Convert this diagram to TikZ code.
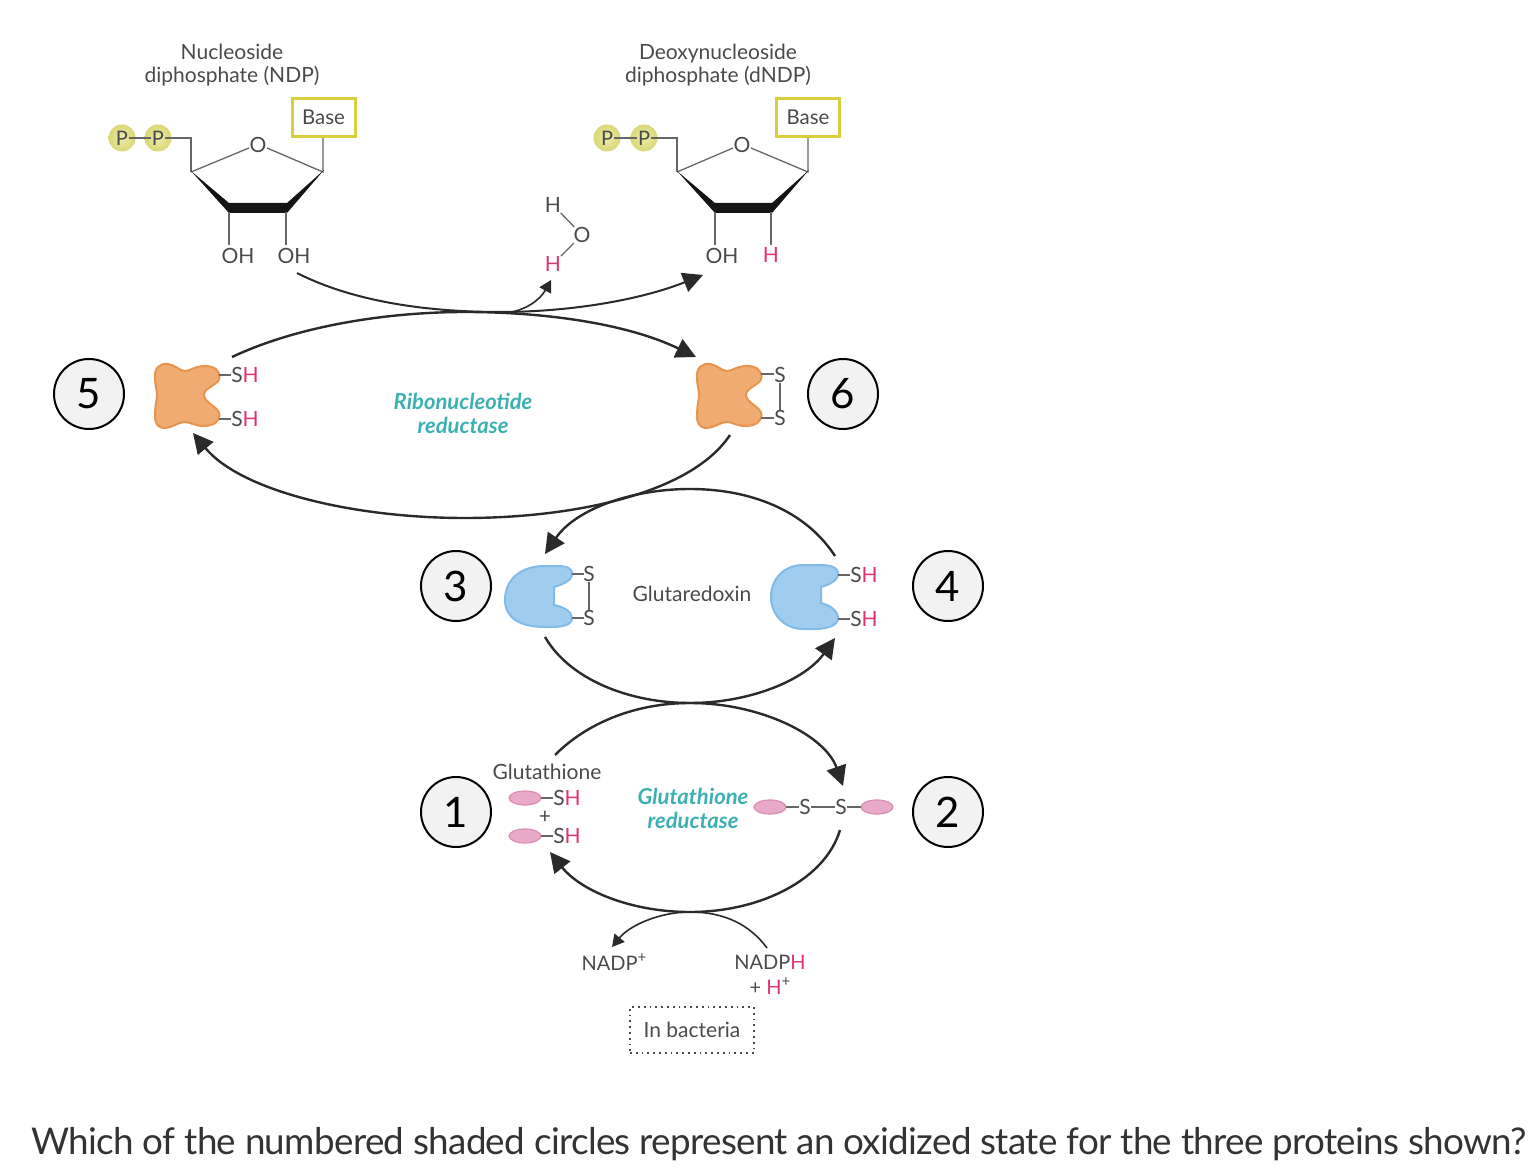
\documentclass[tikz,border=0pt]{standalone}
\usepackage{fontspec}
\setmainfont{Lato}
\usetikzlibrary{arrows.meta}
\definecolor{txt}{HTML}{4A4A4A}
\definecolor{redh}{HTML}{E0356A}
\definecolor{teal2}{HTML}{3DB0B2}
\definecolor{baseY}{HTML}{D8CE3E}
\definecolor{curve}{HTML}{2A2A2A}
\definecolor{bond}{HTML}{666666}
\definecolor{orgfill}{HTML}{EFAB72}
\definecolor{orgline}{HTML}{E8944F}
\definecolor{blufill}{HTML}{A0CDEF}
\definecolor{bluline}{HTML}{82BAE8}
\definecolor{pinkfill}{HTML}{E9A9C8}
\definecolor{pinkline}{HTML}{DB8DB4}
\definecolor{physin}{HTML}{EDEBA8}
\definecolor{physout}{HTML}{DAD877}
\newcommand{\rH}{\textcolor{redh}{H}}
\newcommand{\supplus}{\raisebox{.42em}{\fontsize{7.5}{8}\selectfont +}}
\tikzset{
 x=0.5pt,y=-0.5pt,
 lbl/.style={inner sep=0pt,text=txt,font=\fontsize{10.5}{12}\selectfont},
 smalllbl/.style={inner sep=0pt,text=txt,font=\fontsize{10}{12}\selectfont},
 enz/.style={inner sep=0pt,text=teal2,font=\fontsize{11}{12}\selectfont\bfseries\itshape,align=center},
 num/.style={circle,draw=black,line width=1pt,fill=black!5,minimum size=35pt,inner sep=0pt,text=black,font=\fontsize{21}{24}\selectfont},
 basebox/.style={draw=baseY,line width=1.5pt,fill=white,inner sep=0pt,text=txt,font=\fontsize{10.2}{12}\selectfont,minimum width=31.5pt,minimum height=19pt},
 phos/.style={circle,inner color=physin,outer color=physout,minimum size=13.5pt,inner sep=0pt,text=txt,font=\fontsize{10}{12}\selectfont},
 bondl/.style={draw=bond,line width=.65pt},
 flow/.style={draw=curve,line width=1.2pt,-{Triangle[length=10pt,width=10pt]}},
 thinflow/.style={draw=curve,line width=.8pt,-{Triangle[length=6pt,width=6.5pt]}},
 orangep/.style={draw=orgline,line width=1pt,fill=orgfill},
 bluep/.style={draw=bluline,line width=1pt,fill=blufill},
 pinkp/.style={draw=pinkline,line width=.6pt,fill=pinkfill},
}
\newcommand{\orangeshape}{(155,378) .. controls (154,368) and (160,363) .. (168,364) .. controls (175,365) and (180,371) .. (185,371) .. controls (190,371) and (195,366) .. (205,366) .. controls (215,366) and (219.5,371) .. (219.5,377) .. controls (219.5,385) and (204,387) .. (204,395) .. controls (204,403) and (219.5,407) .. (219.5,415) .. controls (219.5,422) and (213,426) .. (203,426) .. controls (195,426) and (190,422) .. (185,422) .. controls (178,422) and (172,428) .. (165,428) .. controls (158,428) and (155,424) .. (155,416) .. controls (155,405) and (157,400) .. (157,395) .. controls (157,390) and (155,385) .. (155,378) -- cycle}
\begin{document}
\begin{tikzpicture}
\useasboundingbox (0,0) rectangle (1540,1170);
% titles
\node[lbl] (ndpt1) at (232,52) {Nucleoside};
\node[lbl] (ndpt2) at (232,76) {diphosphate (NDP)};
\node[lbl] (dndpt1) at (718,53.5) {Deoxynucleoside};
\node[lbl] (dndpt2) at (718,76) {diphosphate (dNDP)};
% NDP
\node[phos] (p1) at (122,138) {P};
\node[phos] (p2) at (158,138) {P};
\draw[bondl] (129,138) -- (151,138);
\draw[bondl] (165,138) -- (191,138) -- (191,172);
\draw[bondl] (191,172) -- (249,148);
\draw[bondl] (267,148) -- (323,172) -- (323,137);
\fill[black!92] (191,171) -- (229,203) -- (287,203) -- (324,170) -- (287,213) -- (229,213) -- cycle;
\draw[bondl] (229,212) -- (229,245);
\draw[bondl] (286,212) -- (286,245);
\node[lbl] (o1) at (258,145) {O};
\node[basebox] (b1) at (323.5,117.5) {Base};
\node[lbl] (oh1) at (238,256) {OH};
\node[lbl] (oh2) at (294,256) {OH};
% dNDP
\node[phos] (p3) at (607,138) {P};
\node[phos] (p4) at (644,138) {P};
\draw[bondl] (614,138) -- (637,138);
\draw[bondl] (651,138) -- (677,138) -- (677,172);
\draw[bondl] (677,172) -- (733,148);
\draw[bondl] (751,148) -- (808,172) -- (808,137);
\fill[black!92] (677,171) -- (715,203) -- (772,203) -- (809,170) -- (772,213) -- (715,213) -- cycle;
\draw[bondl] (715,212) -- (715,245);
\draw[bondl] (771,212) -- (771,245);
\node[lbl] (o2) at (742,145) {O};
\node[basebox] (b2) at (808,117.5) {Base};
\node[lbl] (oh3) at (722,256) {OH};
\node[lbl,text=redh] (h3) at (771,255) {H};
% water
\node[lbl] (wh1) at (553,205) {H};
\node[lbl] (wo) at (582,235) {O};
\node[lbl,text=redh] (wh2) at (553,264) {H};
\draw[bondl] (wh1) -- (wo);
\draw[bondl] (wh2) -- (wo);
% proteins
\draw[orangep] \orangeshape;
\begin{scope}[xshift=271pt]
\draw[orangep] \orangeshape;
\end{scope}
\draw[bluep] (572,574) .. controls (572,581) and (561,585) .. (554,587) -- (554,605) .. controls (563,607) and (572,611) .. (572,618) .. controls (572,625) and (562,627) .. (552,627) -- (545,627) .. controls (520,627) and (505,618) .. (505,600) .. controls (505,580) and (520,566) .. (545,566) -- (556,566) .. controls (565,566) and (572,567) .. (572,574) -- cycle;
\draw[bluep] (838,574) .. controls (838,581) and (828,585) .. (821,587) -- (821,603) .. controls (830,605) and (838,611) .. (838,618) .. controls (838,626) and (826,629) .. (815,629) -- (803,629) .. controls (785,629) and (771,615) .. (771,597) .. controls (771,578) and (785,565) .. (803,565) -- (820,565) .. controls (830,565) and (838,567) .. (838,574) -- cycle;
% SH / S labels
\node[lbl] (sh1) at (245,375) {S\rH};
\node[lbl] (sh2) at (245,419) {S\rH};
\draw[bondl] (219,375) -- (231,375);
\draw[bondl] (219,419) -- (231,419);
\node[lbl] (s1) at (780,375) {S};
\node[lbl] (s2) at (780,418) {S};
\draw[bondl] (761,374) -- (774,374);
\draw[bondl] (761,418) -- (774,418);
\draw[bondl] (s1) -- (s2);
\node[lbl] (s3) at (589,574) {S};
\node[lbl] (s4) at (589,618) {S};
\draw[bondl] (572,574) -- (584,574);
\draw[bondl] (572,618) -- (584,618);
\draw[bondl] (s3) -- (s4);
\node[lbl] (sh3) at (864,575) {S\rH};
\node[lbl] (sh4) at (864,619) {S\rH};
\draw[bondl] (838,575) -- (850,575);
\draw[bondl] (838,619) -- (850,619);
% circles
\node[num] (n5) at (89,394) {5};
\node[num] (n6) at (843,394) {6};
\node[num] (n3) at (456,586) {3};
\node[num] (n4) at (948,586) {4};
\node[num] (n1) at (456,812) {1};
\node[num] (n2) at (948,812) {2};
% enzyme labels
\node[enz] (rnr1) at (463,401) {Ribonucleotide};
\node[enz] (rnr2) at (463,425) {reductase};
\node[lbl] (grx) at (692,594) {Glutaredoxin};
\node[enz] (gr1) at (693,796) {Glutathione};
\node[enz] (gr2) at (693,820) {reductase};
% glutathione
\node[lbl] (gsh) at (547,772) {Glutathione};
\draw[pinkp] (525,798) ellipse (16 and 7);
\draw[pinkp] (525,836) ellipse (16 and 7);
\draw[bondl] (541,798) -- (553,798);
\draw[bondl] (541,836) -- (553,836);
\node[lbl] (sh5) at (567,798) {S\rH};
\node[lbl] (plus) at (545,817) {+};
\node[lbl] (sh6) at (567,836) {S\rH};
\draw[pinkp] (770,807) ellipse (16 and 7);
\draw[pinkp] (877,807) ellipse (16 and 7);
\node[lbl] (s5) at (805,807) {S};
\node[lbl] (s6) at (841,807) {S};
\draw[bondl] (786,807) -- (s5);
\draw[bondl] (s5) -- (s6);
\draw[bondl] (s6) -- (861,807);
% NADP
\node[smalllbl] (nadp) at (614,962) {NADP\supplus};
\node[smalllbl] (nadph) at (770,962) {NADP\rH};
\node[smalllbl] (hp) at (770,986) {+ \rH\supplus};
\node[lbl,draw=txt,dotted,line width=.9pt,minimum width=62pt,minimum height=23pt] (bac) at (692,1030) {In bacteria};
% connector ends
\coordinate (a1) at (297,273); \coordinate (am) at (500,312); \coordinate (a2) at (703,275);
\coordinate (w1) at (505,313); \coordinate (w2) at (551,280);
\coordinate (c1) at (232,357); \coordinate (cm) at (465,312); \coordinate (c2) at (696,357);
\coordinate (d1) at (730,435); \coordinate (dm) at (465,518); \coordinate (d2) at (193,433);
\coordinate (e1) at (835,556); \coordinate (em) at (690,489); \coordinate (e2) at (545,554);
\coordinate (f1) at (545,637); \coordinate (fm) at (690,703); \coordinate (f2) at (835,638);
\coordinate (g1) at (555,755); \coordinate (g2) at (843,786);
\coordinate (k1) at (840,830); \coordinate (km) at (690,912); \coordinate (k2) at (550,852);
\coordinate (m1) at (767,948); \coordinate (m2) at (612,947);
\draw[flow,line width=1pt] (a1) .. controls (360,305) and (440,312) .. (am) .. controls (570,312) and (640,300) .. (a2);
\draw[thinflow] (w1) .. controls (525,311) and (540,300) .. (w2);
\draw[flow] (c1) .. controls (300,325) and (390,312) .. (cm) .. controls (550,312) and (630,325) .. (c2);
\draw[flow] (d1) .. controls (690,495) and (570,518) .. (dm) .. controls (350,518) and (240,490) .. (d2);
\draw[flow] (e1) .. controls (805,510) and (750,489) .. (em) .. controls (630,489) and (575,510) .. (e2);
\draw[flow] (f1) .. controls (570,680) and (630,703) .. (fm) .. controls (750,703) and (805,680) .. (f2);
\draw[flow] (g1) .. controls (590,720) and (640,703) .. (fm) .. controls (760,703) and (825,735) .. (g2);
\draw[flow] (k1) .. controls (825,880) and (760,912) .. (km) .. controls (630,912) and (580,890) .. (k2);
\draw[thinflow] (m1) .. controls (750,925) and (725,912) .. (km) .. controls (660,912) and (630,925) .. (m2);
% question
\node[inner sep=0pt,anchor=west,text=black!80,font=\fontsize{18.4}{22}\selectfont\addfontfeatures{LetterSpace=-1.8}] (q) at (31,1144) {Which of the numbered shaded circles represent an oxidized state for the three proteins shown?};
\end{tikzpicture}
\end{document}
